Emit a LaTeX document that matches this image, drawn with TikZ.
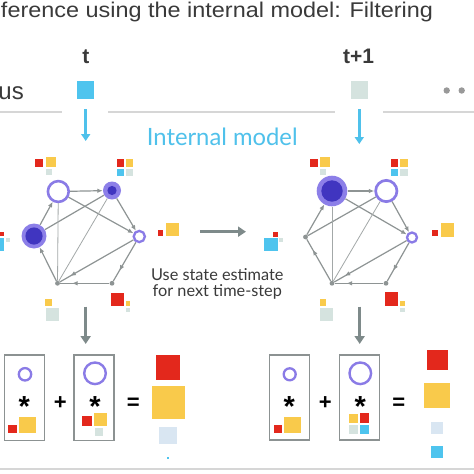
\documentclass[tikz,border=0pt]{standalone}
\usepackage{fontspec}
\setmainfont{Liberation Sans}
\newfontfamily\lato{Lato}
\usetikzlibrary{arrows.meta,decorations.markings}
\definecolor{ringc}{HTML}{8A7BE6}
\definecolor{haloc}{HTML}{8C7FE8}
\definecolor{darkc}{HTML}{4035C0}
\definecolor{edgec}{HTML}{8E9494}
\definecolor{thinc}{HTML}{A3A8A8}
\definecolor{arrc}{HTML}{7E8A8A}
\definecolor{bluec}{HTML}{4FC1EB}
\definecolor{redc}{HTML}{E3281C}
\definecolor{yelc}{HTML}{F9CA4B}
\definecolor{cyanc}{HTML}{4EC4EE}
\definecolor{grnc}{HTML}{D5E3DF}
\definecolor{pblc}{HTML}{D9E6F2}
\definecolor{linec}{HTML}{D6D6D6}
\definecolor{txtc}{HTML}{3A3A3A}
\definecolor{boxc}{HTML}{8C9292}
\tikzset{
  ring/.style={circle, draw=ringc, line width=#1, inner sep=0pt},
  halo/.style={circle, fill=haloc, inner sep=0pt, minimum size=#1},
  gdot/.style={circle, fill=edgec, inner sep=0pt, minimum size=4.8pt},
  edge/.style={draw=edgec, line width=1.2pt},
  thinedge/.style={draw=thinc, line width=0.8pt},
  arr/.style={edge, -{Latex[length=5.5pt,width=4.6pt]}},
  dotarr/.style={edge, postaction=decorate,
    decoration={markings, mark=at position -12pt with {\arrow{Latex[length=5.5pt,width=4.6pt]}}}},
  bigarrow/.style={draw=arrc, line width=3pt, -{Triangle[length=8pt,width=10pt]}},
  bluearrow/.style={draw=bluec, line width=2.6pt, -{Triangle[length=7pt,width=9pt]}},
  vbox/.style={draw=boxc, line width=1.4pt},
  startxt/.style={font=\bfseries\fontsize{29}{29}\selectfont, anchor=base, inner sep=0pt},
  optxt/.style={font=\bfseries\fontsize{22}{22}\selectfont, anchor=base, inner sep=0pt},
}
\begin{document}
\begin{tikzpicture}[x=1pt,y=-1pt]
\useasboundingbox (0,0) rectangle (474,474);
\fill[white] (0,0) rectangle (474,474);
% title and header
\node[anchor=base west, inner sep=0pt, text=txtc, font=\fontsize{21.3}{24}\selectfont] (title) at (0.8,17.8) {\scalebox{1.1}[1]{ference using the internal model: Filtering}};
\node[anchor=base, inner sep=0pt, text=txtc, font=\bfseries\fontsize{21}{24}\selectfont] (tt) at (85.8,63.3) {t};
\node[anchor=base, inner sep=0pt, text=txtc, font=\bfseries\fontsize{21}{24}\selectfont] (tt1) at (358.5,63.3) {t+1};
\node[anchor=base east, inner sep=0pt, text=txtc, font=\fontsize{24}{26}\selectfont] (stim) at (24,99.3) {us};
\fill[cyanc] (77.3,81) rectangle (94,99);
\fill[grnc] (351,81) rectangle (367.7,99);
\fill[black!40] (446.7,90.5) circle (3.2pt) (461.7,90.5) circle (3.2pt);
\draw[linec, line width=1.5pt] (0,112) -- (62,112) (108,112) -- (335,112) (383,112) -- (474,112);
\draw[linec, line width=2pt] (0,469) -- (474,469);
\coordinate (ba1) at (85.7,109);
\coordinate (ba2) at (85.7,141);
\coordinate (bb1) at (359.3,109);
\coordinate (bb2) at (359.3,144);
\draw[bluearrow] (ba1) -- (ba2);
\draw[bluearrow] (bb1) -- (bb2);
\node[anchor=base west, inner sep=0pt, text=bluec, font=\lato\fontsize{23.8}{26}\selectfont] (im) at (146.7,145) {Internal model};

% ---------- left graph ----------
\node[ring=2.6pt, minimum size=20.8pt] (a1) at (58.3,191.5) {};
\node[halo=18pt] (a2) at (112,190.5) {};
\fill[darkc] (a2.center) circle (4.6pt);
\node[ring=2.3pt, minimum size=11.2pt] (a3) at (139.3,236.5) {};
\node[gdot] (a4) at (112,283.3) {};
\node[gdot] (a5) at (57.5,283.3) {};
\node[halo=25pt] (a6) at (34,236) {};
\fill[darkc] (a6.center) circle (8.6pt);
\draw[arr] (a1) -- (a2);
\draw[arr] (a1) -- (a3);
\draw[arr] (a2) -- (a3);
\draw[arr] (a6) -- (a1);
\draw[edge] (a6) -- (a2);
\draw[arr] (a5) -- (a6);
\draw[thinedge] (a5) -- (a1);
\draw[thinedge] (a5) -- (a2);
\draw[dotarr] (a3) -- (a5);
\draw[dotarr] (a4) -- (a5);
\draw[dotarr] (a3) -- (a4);
% vectors left graph
\fill[redc] (35,159.3) rectangle (43.3,167.3);
\fill[yelc] (45.7,156.7) rectangle (55.7,166.7);
\fill[grnc] (45.7,169) rectangle (51.7,175);
\fill[redc] (116.7,159.3) rectangle (124,166.7);
\fill[yelc] (125.7,159.3) rectangle (133.3,166.7);
\fill[cyanc] (116.7,169) rectangle (124,176);
\fill[grnc] (125.7,169) rectangle (133.3,176);
\fill[redc] (157.5,229.5) rectangle (163.3,236);
\fill[yelc] (166,223.3) rectangle (179,236.3);
\fill[redc] (-0.5,231.7) rectangle (3.5,236);
\fill[cyanc] (-9.5,238) rectangle (4,251);
\fill[grnc] (5.5,238.3) rectangle (9.5,242.3);
\fill[yelc] (45,299) rectangle (52.3,305.7);
\fill[grnc] (45.5,307.7) rectangle (58.5,320.5);
\fill[redc] (111,292.5) rectangle (124.3,305.7);
\fill[yelc] (125.7,301) rectangle (130,305.7);
\fill[grnc] (125.7,307.7) rectangle (130,312.3);

% middle arrow and text
\coordinate (m1) at (200,231.7);
\coordinate (m2) at (246,231.7);
\draw[bigarrow] (m1) -- (m2);
\node[anchor=base, inner sep=0pt, text=txtc, font=\lato\fontsize{16.3}{18}\selectfont] (use1) at (217.3,280) {Use state estimate};
\node[anchor=base, inner sep=0pt, text=txtc, font=\lato\fontsize{16.3}{18}\selectfont] (use2) at (217.3,296.7) {for next time-step};

% ---------- right graph ----------
\node[halo=30.6pt] (b1) at (332,191) {};
\fill[darkc] (b1.center) circle (10.7pt);
\node[ring=2.7pt, minimum size=21.3pt] (b2) at (386.3,191) {};
\node[ring=2.3pt, minimum size=10pt] (b3) at (412,237.5) {};
\node[gdot] (b4) at (386,283.3) {};
\node[gdot] (b5) at (332,283.3) {};
\node[gdot] (b6) at (305.5,237) {};
\draw[arr] (b1) -- (b2);
\draw[arr] (b1) -- (b3);
\draw[arr] (b2) -- (b3);
\draw[arr] (b6) -- (b1);
\draw[edge] (b6) -- (b2);
\draw[dotarr] (b5) -- (b6);
\draw[thinedge] (b5) -- (b1);
\draw[thinedge] (b5) -- (b2);
\draw[dotarr] (b3) -- (b5);
\draw[dotarr] (b4) -- (b5);
\draw[dotarr] (b3) -- (b4);
% vectors right graph
\fill[redc] (310,159.3) rectangle (317.7,167.3);
\fill[yelc] (320,156.7) rectangle (330,166.7);
\fill[grnc] (320,169) rectangle (326,175);
\fill[redc] (390.7,159.3) rectangle (398.3,166.7);
\fill[yelc] (400,159.3) rectangle (407.7,166.7);
\fill[cyanc] (390.7,169) rectangle (398.3,176);
\fill[grnc] (400,169) rectangle (407.7,176);
\fill[redc] (432,229.5) rectangle (438,236);
\fill[yelc] (440.5,223.3) rectangle (453.5,236.5);
\fill[redc] (273.3,232.3) rectangle (277.7,236.7);
\fill[cyanc] (264.3,238.3) rectangle (277.7,251);
\fill[grnc] (279.3,238.3) rectangle (283.3,242.3);
\fill[yelc] (319.7,299.3) rectangle (326.3,306);
\fill[grnc] (319.7,307.7) rectangle (333,320.5);
\fill[redc] (384.7,292.3) rectangle (398,305.7);
\fill[yelc] (400.3,301) rectangle (404.7,305.7);
\fill[grnc] (400.3,307.7) rectangle (404.7,312.3);

% ---------- bottom left ----------
\coordinate (da1) at (85.7,306.7);
\coordinate (da2) at (85.7,344);
\draw[bigarrow] (da1) -- (da2);
\draw[vbox] (4.7,355) rectangle (44.3,440.7);
\draw[vbox] (74,355) rectangle (114,440.7);
\node[ring=2.3pt, minimum size=12.4pt] (c1) at (25,374.3) {};
\node[ring=2.4pt, minimum size=21.6pt] (c2) at (95,373.3) {};
\node[startxt] (s1) at (24.3,416.5) {*};
\node[startxt] (s2) at (95,416.5) {*};
\fill[redc] (8.3,425) rectangle (16.7,433.3);
\fill[yelc] (19,416.7) rectangle (35.7,433.3);
\fill[redc] (82,416) rectangle (92.3,426);
\fill[yelc] (94.3,413.3) rectangle (107.3,426);
\fill[grnc] (95,428) rectangle (102.7,436);
\node[optxt] (p1) at (60.3,409.4) {+};
\node[optxt] (e1) at (133.3,409.4) {=};
\fill[redc] (155.7,355) rectangle (180.3,380);
\fill[yelc] (151.7,386) rectangle (185,419);
\fill[pblc] (159,427) rectangle (177,444);
\fill[cyanc] (167,456.7) rectangle (169,458.7);

% ---------- bottom right ----------
\coordinate (db1) at (359.7,306.7);
\coordinate (db2) at (359.7,344);
\draw[bigarrow] (db1) -- (db2);
\draw[vbox] (269.7,355) rectangle (309.3,440);
\draw[vbox] (339.7,355) rectangle (379.7,440);
\node[ring=2.3pt, minimum size=12pt] (c3) at (289.7,374.3) {};
\node[ring=2.4pt, minimum size=21.6pt] (c4) at (360.3,373.3) {};
\node[startxt] (s3) at (289.3,416.5) {*};
\node[startxt] (s4) at (360.3,416.5) {*};
\fill[redc] (273.7,425) rectangle (282,432.7);
\fill[yelc] (284.3,416.7) rectangle (301,432.7);
\fill[yelc] (348.7,414) rectangle (357.7,422.7);
\fill[redc] (360,413.3) rectangle (369.3,422.7);
\fill[grnc] (348.7,425) rectangle (357.7,434);
\fill[cyanc] (360,425) rectangle (369.3,434);
\node[optxt] (p2) at (325.3,409.4) {+};
\node[optxt] (e2) at (398.7,409.4) {=};
\fill[redc] (427,350) rectangle (447.7,370);
\fill[yelc] (423.7,382.7) rectangle (450.3,408.3);
\fill[pblc] (431.3,422.3) rectangle (443.3,434);
\fill[cyanc] (431.3,446) rectangle (443.3,457.7);
\end{tikzpicture}
\end{document}
